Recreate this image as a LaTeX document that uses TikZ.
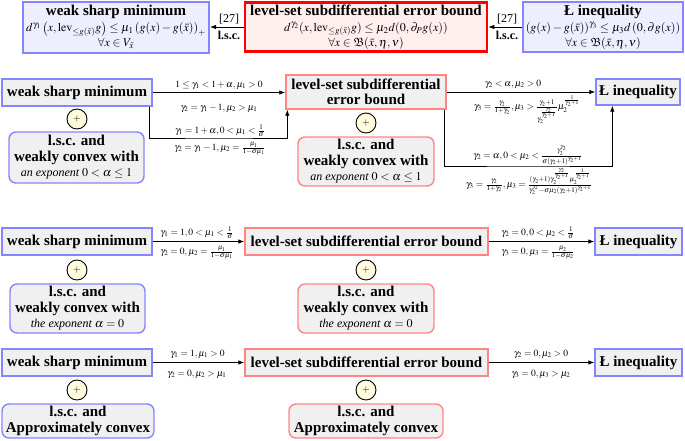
\documentclass[tikz,border=0pt]{standalone}
\usepackage{amssymb}
\usepackage{mathptmx}
\usepackage[no-math]{fontspec}
\setmainfont{Liberation Serif}
\usetikzlibrary{arrows.meta}
\definecolor{bluebd}{HTML}{8585FF}
\definecolor{redbd}{HTML}{FF8585}
\definecolor{greyf}{HTML}{F0F0F0}
\definecolor{bluef}{HTML}{EEEEFF}
\definecolor{pinkf}{HTML}{FFEEEE}
\definecolor{yellowf}{HTML}{FFFCDD}
\tikzset{
  box/.style={draw, line width=1.4pt, inner sep=0pt, align=center, font=\fontsize{15}{15.5}\selectfont\bfseries},
  bbox/.style={box, draw=bluebd, fill=greyf},
  rbox/.style={box, draw=redbd, fill=greyf},
  lscb/.style={box, rounded corners=7pt},
  tbox/.style={draw, inner sep=0pt, align=center, font=\fontsize{12}{15}\selectfont},
  plusc/.style={circle, draw=black, line width=0.9pt, fill=yellowf, minimum size=20pt, inner sep=0pt, font=\fontsize{10}{10}\selectfont},
  arr/.style={-{Latex[length=6pt,width=4.5pt]}, line width=0.8pt},
  lab/.style={inner sep=0pt, font=\fontsize{9.5}{11}\selectfont},
  reflab/.style={inner sep=0pt, font=\fontsize{12}{13}\selectfont}
}
\newcommand{\ttl}[1]{{\fontsize{15}{15}\selectfont\bfseries #1}}
\newcommand{\smallit}[1]{{\fontsize{12}{15}\selectfont\mdseries\itshape #1}}
\begin{document}
\begin{tikzpicture}[x=1pt,y=-1pt]
\useasboundingbox (0,0) rectangle (685,440);

% ---------- Row 1 ----------
\node[tbox, draw=bluebd, fill=bluef, line width=2pt, minimum width=186pt, minimum height=51pt] (A) at (116,27)
  {\ttl{weak sharp minimum}\\[1pt]
   $d^{\gamma_1}\left(x,\mathrm{lev}_{\le g(\bar x)}g\right)\le\mu_1\left(g(x)-g(\bar x)\right)_+$\\
   $\forall x\in V_{\bar x}$};
\node[tbox, draw=red, fill=pinkf, line width=2.5pt, minimum width=242pt, minimum height=49pt] (B) at (366,27)
  {\ttl{level-set subdifferential error bound}\\[1pt]
   $d^{\gamma_2}(x,\mathrm{lev}_{\le g(\bar x)}g)\le\mu_2 d(0,\partial_P g(x))$\\
   $\forall x\in\mathfrak{B}(\bar x,\eta,\nu)$};
\node[tbox, draw=bluebd, fill=bluef, line width=2pt, minimum width=160pt, minimum height=50pt] (C) at (603,27)
  {\ttl{Ł inequality}\\[1pt]
   $(g(x)-g(\bar x))^{\gamma_3}\le\mu_3 d\left(0,\partial g(x)\right)$\\
   $\forall x\in\mathfrak{B}(\bar x,\eta,\nu)$};
\draw[arr] (B.west) -- (A.east);
\draw[arr] (C.west) -- (B.east);
\node[reflab] (r1a) at (229,19) {[27]};
\node[reflab, font=\fontsize{12}{13}\selectfont\bfseries] (r1b) at (229,35) {l.s.c.};
\node[reflab] (r1c) at (507,19) {[27]};
\node[reflab, font=\fontsize{12}{13}\selectfont\bfseries] (r1d) at (507,35) {l.s.c.};

% ---------- Row 2 ----------
\node[bbox, minimum width=150pt, minimum height=27pt] (w2) at (77,92.5) {weak sharp minimum};
\node[plusc] (p2a) at (77,119) {$+$};
\node[lscb, draw=bluebd, fill=greyf, minimum width=135pt, minimum height=51pt] (s2a) at (76.5,157.5)
  {l.s.c. and\\ weakly convex with\\ \smallit{an exponent $0<\alpha\le 1$}};
\node[rbox, minimum width=160pt, minimum height=34pt] (e2) at (366,92) {level-set subdifferential\\ error bound};
\node[plusc] (p2b) at (366,123) {$+$};
\node[lscb, draw=redbd, fill=greyf, minimum width=136pt, minimum height=49pt] (s2b) at (366,161.5)
  {l.s.c. and\\ weakly convex with\\ \smallit{an exponent $0<\alpha\le 1$}};
\node[bbox, minimum width=84pt, minimum height=26pt] (k2) at (638,92) {Ł inequality};

\draw[arr] (w2.east) -- (w2.east -| e2.west);
\node[lab] (l2a) at (219,85) {$1\le\gamma_1<1+\alpha,\mu_1>0$};
\node[lab] (l2b) at (219,108) {$\gamma_2=\gamma_1-1,\mu_2>\mu_1$};
\coordinate (b1) at (220,138);
\draw[arr] ([xshift=-3pt]w2.south east) |- (b1) -| ([xshift=2pt]e2.south west);
\node[lab, anchor=south] (l2c) at (220,137) {$\gamma_1=1+\alpha,0<\mu_1<\frac{1}{\sigma}$};
\node[lab, anchor=north] (l2d) at (220,142) {$\gamma_2=\gamma_1-1,\mu_2=\frac{\mu_1}{1-\sigma\mu_1}$};

\draw[arr] (e2.east |- k2.west) -- (k2.west);
\node[lab] (l2e) at (513,84) {$\gamma_2<\alpha,\mu_2>0$};
\node[lab, anchor=north] (l2f) at (527,95)
  {$\gamma_3=\frac{\gamma_2}{1+\gamma_2},\mu_3>\frac{\gamma_2+1}{\gamma_2^{\frac{\gamma_2}{\gamma_2+1}}}\mu_2^{\frac{1}{\gamma_2+1}}$};
\coordinate (b2) at (528,166);
\draw[arr] ([xshift=-2pt]e2.south east) |- (b2) -| ([xshift=17pt]k2.south west);
\node[lab, anchor=south] (l2g) at (528,165)
  {$\gamma_2=\alpha,0<\mu_2<\frac{\gamma_2^{\gamma_2}}{\sigma(\gamma_2+1)^{\gamma_2+1}}$};
\node[lab, anchor=north] (l2h) at (529,168)
  {$\gamma_3=\frac{\gamma_2}{1+\gamma_2},\mu_3=\frac{(\gamma_2+1)\gamma_2^{\frac{\gamma_2}{\gamma_2+1}}\mu_2^{\frac{1}{\gamma_2+1}}}{\gamma_2^{\gamma_2}-\sigma\mu_2(\gamma_2+1)^{\gamma_2+1}}$};

% ---------- Row 3 ----------
\node[bbox, minimum width=150pt, minimum height=27pt] (w3) at (77,241.5) {weak sharp minimum};
\node[plusc] (p3a) at (77,270) {$+$};
\node[lscb, draw=bluebd, fill=greyf, minimum width=135pt, minimum height=49pt] (s3a) at (77.5,308.5)
  {l.s.c. and\\ weakly convex with\\ \smallit{the exponent $\alpha=0$}};
\node[rbox, minimum width=243pt, minimum height=27pt] (e3) at (366.5,241.5) {level-set subdifferential error bound};
\node[plusc] (p3b) at (366,270) {$+$};
\node[lscb, draw=redbd, fill=greyf, minimum width=136pt, minimum height=49pt] (s3b) at (366,308.5)
  {l.s.c. and\\ weakly convex with\\ \smallit{the exponent $\alpha=0$}};
\node[bbox, minimum width=87pt, minimum height=27pt] (k3) at (638.5,241.5) {Ł inequality};
\draw[arr] (w3.east) -- (e3.west);
\draw[arr] (e3.east) -- (k3.west);
\node[lab, anchor=south] (l3a) at (197,239) {$\gamma_1=1,0<\mu_1<\frac{1}{\sigma}$};
\node[lab, anchor=north] (l3b) at (197,246) {$\gamma_2=0,\mu_2=\frac{\mu_1}{1-\sigma\mu_1}$};
\node[lab, anchor=south] (l3c) at (538,239) {$\gamma_2=0,0<\mu_2<\frac{1}{\sigma}$};
\node[lab, anchor=north] (l3d) at (538,246) {$\gamma_3=0,\mu_3=\frac{\mu_2}{1-\sigma\mu_2}$};

% ---------- Row 4 ----------
\node[bbox, minimum width=150pt, minimum height=27pt] (w4) at (77,362.5) {weak sharp minimum};
\node[plusc] (p4a) at (77,390) {$+$};
\node[lscb, draw=bluebd, fill=greyf, minimum width=152pt, minimum height=34pt] (s4a) at (78,421)
  {l.s.c. and\\ Approximately convex};
\node[rbox, minimum width=243pt, minimum height=27pt] (e4) at (366.5,362.5) {level-set subdifferential error bound};
\node[plusc] (p4b) at (366,390) {$+$};
\node[lscb, draw=redbd, fill=greyf, minimum width=154pt, minimum height=34pt] (s4b) at (366,421)
  {l.s.c. and\\ Approximately convex};
\node[bbox, minimum width=87pt, minimum height=27pt] (k4) at (638.5,362.5) {Ł inequality};
\draw[arr] (w4.east) -- (e4.west);
\draw[arr] (e4.east) -- (k4.west);
\node[lab] (l4a) at (197.5,354) {$\gamma_1=1,\mu_1>0$};
\node[lab] (l4b) at (197,374) {$\gamma_2=0,\mu_2>\mu_1$};
\node[lab] (l4c) at (541,354) {$\gamma_2=0,\mu_2>0$};
\node[lab] (l4d) at (541,374) {$\gamma_3=0,\mu_3>\mu_2$};
\end{tikzpicture}
\end{document}
